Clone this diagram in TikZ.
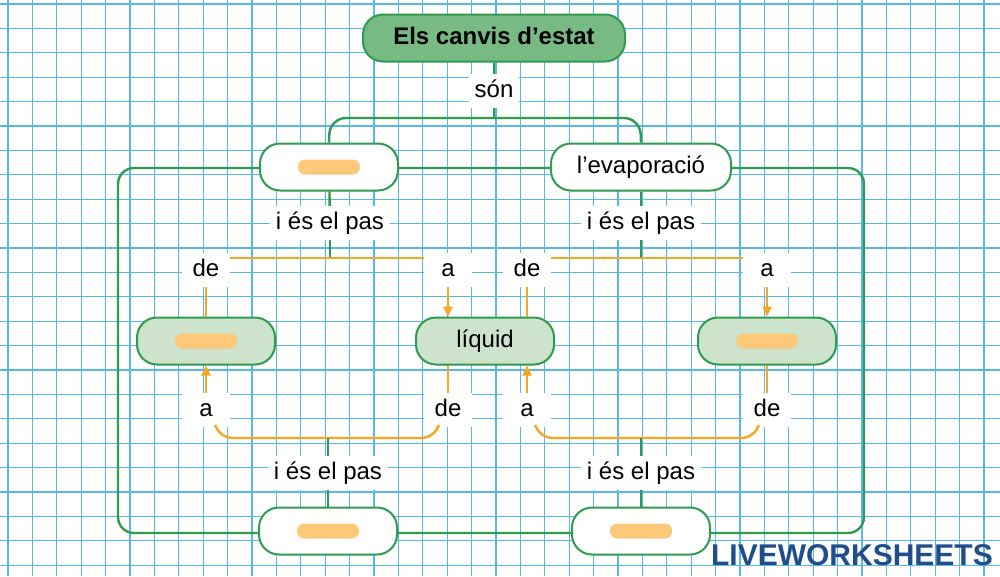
\documentclass[tikz,border=0pt]{standalone}
\usepackage{fontspec}
\setmainfont{Liberation Sans}
\usetikzlibrary{arrows.meta,calc}
\definecolor{gline}{HTML}{2E9B4F}
\definecolor{gfill}{HTML}{78BA84}
\definecolor{lfill}{HTML}{CDE3CC}
\definecolor{oline}{HTML}{F5A623}
\definecolor{pill}{HTML}{FBC97A}
\definecolor{grid}{HTML}{5AB8E6}
\definecolor{lws}{HTML}{1F4E8C}
\tikzset{
  x=1pt,y=-1pt,
  box/.style={draw=gline,line width=2pt,rounded corners=20pt,minimum height=47pt,inner sep=0pt,text height=17pt,text depth=5pt,font=\fontsize{24}{28}\selectfont},
  wbox/.style={box,fill=white},
  lbox/.style={box,fill=lfill},
  lab/.style={fill=white,inner sep=6pt,text height=17pt,text depth=5pt,font=\fontsize{24}{28}\selectfont},
  gl/.style={draw=gline,line width=2.4pt},
  ol/.style={draw=oline,line width=2.4pt},
  oa/.style={ol,-{Triangle[length=10pt,width=9pt]}},
}
\newcommand{\pillat}[1]{\fill[pill,rounded corners=7pt] ($(#1)+(-31,-7.5)$) rectangle ($(#1)+(31,7.5)$);}
\begin{document}
\begin{tikzpicture}
\useasboundingbox (0,0) rectangle (1000,576);
\fill[white] (0,0) rectangle (1000,576);
\foreach \i in {0,...,41} {\draw[grid,line width=1.2pt] (8+24.4*\i,0) -- (8+24.4*\i,576);}
\foreach \i in {0,...,23} {\draw[grid,line width=1.2pt] (0,4+24.4*\i) -- (1000,4+24.4*\i);}
% outer loop
\draw[gl,rounded corners=16pt] (118,168) rectangle (864,533);
% title and son
\node[box,fill=gfill,minimum width=262pt,font=\bfseries\fontsize{24}{28}\selectfont] (t) at (494,38) {Els canvis d’estat};
\node[lab] (son) at (494,91) {són};
\node[wbox,minimum width=138pt] (b1) at (329,167) {};
\node[wbox,minimum width=180pt] (b2) at (641,167) {l’evaporació};
\node[wbox,minimum width=138pt] (b3) at (328,531) {};
\node[wbox,minimum width=138pt] (b4) at (641,531) {};
\draw[gl] (t) -- (son);
\draw[gl] (son.south) -- (494,118);
\draw[gl,rounded corners=16pt] (b1.north) -- (330,118) -- (640,118) -- (b2.north);
\node[lbox,minimum width=138pt] (m1) at (206,341) {};
\node[lbox,minimum width=138pt] (m2) at (485,341) {líquid};
\node[lbox,minimum width=138pt] (m3) at (767,341) {};
\pillat{b1}\pillat{b3}\pillat{b4}\pillat{m1}\pillat{m3}
% labels
\node[lab] (p1) at (330,223) {i és el pas};
\node[lab] (p2) at (641,223) {i és el pas};
\node[lab] (p3) at (328,473) {i és el pas};
\node[lab] (p4) at (641,473) {i és el pas};
\node[lab,minimum width=48pt] (d1) at (206,270) {de};
\node[lab,minimum width=48pt] (a1) at (448,270) {a};
\node[lab,minimum width=48pt] (d2) at (527,270) {de};
\node[lab,minimum width=48pt] (a2) at (767,270) {a};
\node[lab,minimum width=48pt] (a3) at (206,410) {a};
\node[lab,minimum width=48pt] (d3) at (448,410) {de};
\node[lab,minimum width=48pt] (a4) at (527,410) {a};
\node[lab,minimum width=48pt] (d4) at (767,410) {de};
% top connectors
\draw[gl] (b1) -- (p1);
\draw[gl] (p1) -- (330,258);
\draw[gl] (b2) -- (p2);
\draw[gl] (p2) -- (641,258);
\draw[ol] ($(d1.east)+(0,-12)$) -- ($(a1.west)+(0,-12)$);
\draw[ol] ($(d2.east)+(0,-12)$) -- ($(a2.west)+(0,-12)$);
\draw[ol] (d1) -- (m1);
\draw[oa] (a1) -- (a1 |- m2.north);
\draw[ol] (d2) -- (d2 |- m2.north);
\draw[oa] (a2) -- (m3);
% bottom connectors
\draw[oa] (a3) -- (m1);
\draw[ol] (d3 |- m2.south) -- (d3);
\draw[oa] (a4) -- (a4 |- m2.south);
\draw[ol] (m3) -- (d4);
\draw[ol,rounded corners=10pt] (215,425) -- (222,438) -- (432,438) -- (439,425);
\draw[ol,rounded corners=10pt] (535,425) -- (542,438) -- (752,438) -- (759,425);
\draw[gl] (328,438) -- (p3);
\draw[gl] (p3) -- (b3);
\draw[gl] (641,438) -- (p4);
\draw[gl] (p4) -- (b4);
% watermark
\node[anchor=east,text=lws,font=\bfseries\fontsize{30}{32}\selectfont,inner sep=0pt] (wm) at (993,555) {LIVEWORKSHEETS};
\end{tikzpicture}
\end{document}
